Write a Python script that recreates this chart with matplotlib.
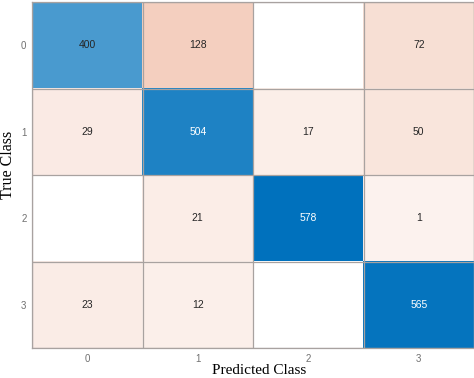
import matplotlib
matplotlib.use("Agg")
import matplotlib.pyplot as plt
import numpy as np

classes = ["0", "1", "2", "3"]
counts = np.array([
    [400, 128,   0,  72],
    [ 29, 504,  17,  50],
    [  0,  21, 578,   1],
    [ 23,  12,   0, 565],
])

blue = np.array([0, 114, 189]) / 255.0
red = np.array([217, 83, 25]) / 255.0

# matlab confusionchart style shading: diagonal blue, off-diagonal red
vmax = counts.max()
n = len(classes)
rgb = np.ones((n, n, 3))
for i in range(n):
    for j in range(n):
        v = counts[i, j]
        if v == 0:
            continue
        a = 0.07 + 0.93 * v / vmax
        base = blue if i == j else red
        rgb[i, j] = 1 - a * (1 - base)

fig = plt.figure(figsize=(4.74, 3.78), dpi=100)
ax = fig.add_axes([32 / 474, 1 - 348 / 378, 1 - 32 / 474, 346 / 378])
ax.imshow(rgb, aspect="auto", interpolation="nearest")

for i in range(n):
    for j in range(n):
        v = counts[i, j]
        if v == 0:
            continue
        a = 0.07 + 0.93 * v / vmax
        col = "white" if (i == j and a > 0.8) else "#262626"
        ax.text(j, i, str(v), ha="center", va="center", fontsize=7.5,
                color=col, family="Liberation Sans")

ax.set_xticks(range(n))
ax.set_yticks(range(n))
ax.set_xticklabels(classes)
ax.set_yticklabels(classes)
ax.tick_params(length=0, labelsize=7, labelcolor="#707070", pad=4)
for t in ax.get_xticklabels() + ax.get_yticklabels():
    t.set_family("Liberation Sans")

ax.set_xticks(np.arange(-0.5, n, 1), minor=True)
ax.set_yticks(np.arange(-0.5, n, 1), minor=True)
ax.grid(which="minor", color="#a8a2a0", linewidth=0.9)
ax.tick_params(which="minor", length=0)
for s in ax.spines.values():
    s.set_color("#a8a2a0")
    s.set_linewidth(0.9)

ax.set_xlabel("Predicted Class", family="Liberation Serif", fontsize=11)
ax.set_ylabel("True Class", family="Liberation Serif", fontsize=11.5)
ax.xaxis.set_label_coords(0.514, -0.047)
ax.yaxis.set_label_coords(-0.036, 0.529)

fig.savefig("out.png", dpi=100)
